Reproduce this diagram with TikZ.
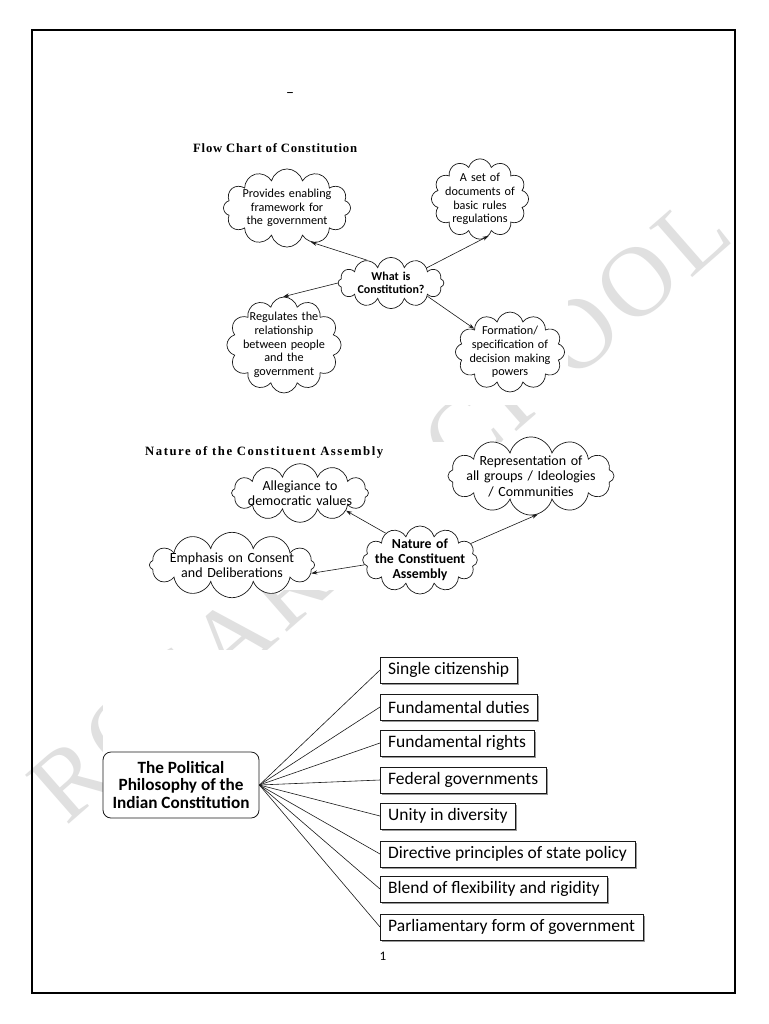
\documentclass[tikz,border=0pt]{standalone}
\usepackage{fontspec}
\setmainfont{Carlito}
\newfontfamily\headfont{Liberation Serif}
\usetikzlibrary{arrows.meta,shapes.symbols,shadows}
\definecolor{ink}{RGB}{25,25,25}
\definecolor{wmgray}{RGB}{224,224,224}

\begin{document}
\begin{tikzpicture}[x=1pt,y=-1pt,>={Stealth[length=6pt,width=4pt]},font=\fontsize{13}{13}\selectfont]
\tikzset{cl/.style={cloud,cloud puffs=12,cloud ignores aspect,draw=ink,fill=white,align=center,line width=0.7pt},
  cla/.style={cl,font=\fontsize{12.2}{13.8}\selectfont},clab/.style={cl,font=\fontsize{12}{13}\selectfont\bfseries},
  clb/.style={cl,font=\fontsize{14}{15.5}\selectfont},clbb/.style={cl,font=\fontsize{13.8}{15}\selectfont\bfseries},
  arr/.style={->,draw=ink,line width=0.6pt},spoke/.style={draw=ink,line width=0.6pt},
  itm/.style={draw=ink,fill=white,anchor=west,minimum height=26pt,inner xsep=8pt,font=\fontsize{17.5}{17.5}\selectfont,
    drop shadow={shadow xshift=1.6pt,shadow yshift=-1.6pt,fill=black!50,opacity=0.8}},
  hd/.style={anchor=west,inner sep=0pt,font=\headfont\bfseries\fontsize{12.7}{13}\selectfont},
  wmk/.style={text=wmgray,inner sep=0pt,rotate=41.2,font=\headfont\fontsize{100}{100}\selectfont}}
\useasboundingbox (0,0) rectangle (768,1024);
\fill[white] (0,0) rectangle (768,1024);
\node[wmk] (wm) at (380,508) {\addfontfeatures{LetterSpace=6}ROSARY SCHOOL};
\fill[white] (186,136) rectangle (568,405);\fill[white] (140,442) rectangle (618,590);\fill[white] (103,650) rectangle (655,948);
\draw[line width=2pt] (32,30) rectangle (735,993);
\node (dash) at (290,95) {\fontsize{16}{16}\selectfont --};
\node[hd] (t1) at (193,148) {\addfontfeatures{LetterSpace=6}Flow Chart of Constitution};
\node[cla,text width=110pt,inner xsep=-12.6pt,inner ysep=0.8pt] (prov) at (287,208) {Provides enabling\\framework for\\the government};
\node[cla,text width=90pt,inner xsep=-14.2pt,inner ysep=-2.85pt] (aset) at (480,199) {A set of\\documents of\\basic rules\\regulations};
\node[clab,text width=90pt,inner xsep=-8.6pt,inner ysep=0.5pt] (what) at (391,283) {What is\\Constitution?};
\node[cla,text width=100pt,inner xsep=-13.9pt,inner ysep=-5.2pt] (regu) at (284,345) {Regulates the\\relationship\\between people\\and the\\government};
\node[cla,text width=100pt,inner xsep=-14.6pt,inner ysep=-3.95pt] (form) at (510,352) {Formation/\\specification of\\decision making\\powers};
\draw[arr] (what.136)--(prov.-55);\draw[arr] (what.23)--(aset.-77);\draw[arr] (what.180)--(regu.91);\draw[arr] (what.-20)--(form.147);
\node[hd] (t2) at (145,452) {\addfontfeatures{LetterSpace=12}Nature of the Constituent Assembly};
\node[clb,text width=160pt,inner xsep=-22.7pt,inner ysep=-3.8pt] (repr) at (531,476) {Representation of\\all groups / Ideologies\\/ Communities};
\node[clb,text width=130pt,inner xsep=-17.3pt,inner ysep=-1.05pt] (alle) at (300,493) {Allegiance to\\democratic values};
\node[clbb,text width=110pt,inner xsep=-16.5pt,inner ysep=-3.9pt] (natu) at (420,560) {Nature of\\the Constituent\\Assembly};
\node[clb,text width=160pt,inner xsep=-22pt,inner ysep=-0.65pt] (emph) at (232,565) {Emphasis on Consent\\and Deliberations};
\draw[arr] (natu.142)--(alle.-21);\draw[arr] (natu.18)--(repr.-80);\draw[arr] (natu.-175)--(emph.-6);
\node[draw=ink,fill=white,rounded corners=8pt,line width=0.8pt,minimum width=156pt,minimum height=66pt,align=center,font=\fontsize{17.2}{17.2}\selectfont\bfseries] (phil) at (181,785) {The Political\\Philosophy of the\\Indian Constitution};
\node[itm] (b1) at (380,670) {Single citizenship};
\node[itm] (b2) at (380,707) {Fundamental duties};
\node[itm] (b3) at (380,743) {Fundamental rights};
\node[itm] (b4) at (380,780) {Federal governments};
\node[itm] (b5) at (380,816) {Unity in diversity};
\node[itm] (b6) at (380,854) {Directive principles of state policy};
\node[itm] (b7) at (380,889) {Blend of flexibility and rigidity};
\node[itm] (b8) at (380,927) {Parliamentary form of government};
\draw[spoke] (phil.east)--(b1.west);\draw[spoke] (phil.east)--(b2.west);\draw[spoke] (phil.east)--(b3.west);\draw[spoke] (phil.east)--(b4.west);
\draw[spoke] (phil.east)--(b5.west);\draw[spoke] (phil.east)--(b6.west);\draw[spoke] (phil.east)--(b7.west);\draw[spoke] (phil.east)--(b8.west);
\node (pg) at (383,956) {1};
\end{tikzpicture}
\end{document}
